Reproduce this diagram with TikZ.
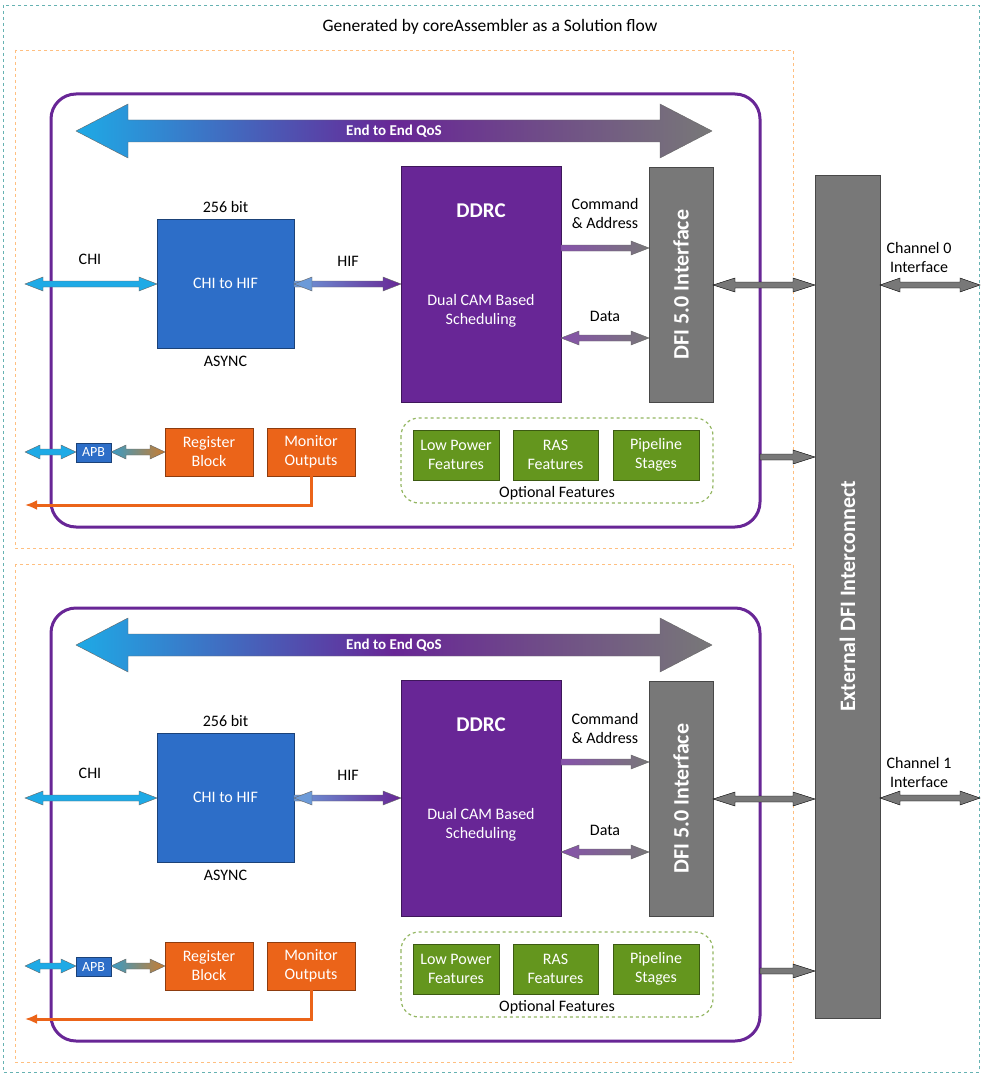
\documentclass[tikz,border=0pt]{standalone}
\usepackage{fontspec}
\setmainfont{Carlito}
\usetikzlibrary{calc,arrows.meta}
\definecolor{pur}{RGB}{104,38,150}
\definecolor{lblue}{RGB}{30,170,230}
\definecolor{bblue}{RGB}{45,110,200}
\definecolor{gry}{RGB}{120,120,120}
\definecolor{org}{RGB}{235,100,25}
\definecolor{grn}{RGB}{100,150,30}
\tikzset{
  blk/.style={draw=#1!60!black,fill=#1,line width=0.6pt,text=white,align=center,inner sep=0pt},
  lbl/.style={font=\fontsize{16}{19}\selectfont,align=center},
}
% double arrow polygon: x1 x2 y shafthalf headhalf headlen
\newcommand{\dbar}[7]{%
  \draw[#7] (#1+#6,#3-#4) -- (#2-#6,#3-#4) -- (#2-#6,#3-#5) -- (#2,#3) -- (#2-#6,#3+#5) -- (#2-#6,#3+#4)
    -- (#1+#6,#3+#4) -- (#1+#6,#3+#5) -- (#1,#3) -- (#1+#6,#3-#5) -- cycle;}
\newcommand{\sgar}[7]{%
  \draw[#7] (#1,#3-#4) -- (#2-#6,#3-#4) -- (#2-#6,#3-#5) -- (#2,#3) -- (#2-#6,#3+#5) -- (#2-#6,#3+#4)
    -- (#1,#3+#4) -- cycle;}
\newcommand{\channel}[2]{%
\begin{scope}[yshift=-#1pt]
  \draw[orange!50,dashed] (15,50) rectangle (793,548);
  \draw[pur,line width=3pt,rounded corners=25pt] (51,94) rectangle (760,527);
  \dbar{76}{712}{131}{11}{27}{52}{draw=black!60,left color=lblue,right color=gry,middle color=pur}
  \node[text=white,font=\bfseries\fontsize{15}{18}\selectfont] (qos#2) at (394,131) {End to End QoS};
  \node[blk=bblue,minimum width=137pt,minimum height=129pt,font=\fontsize{16}{19}\selectfont] (chi#2) at (225.5,283.5) {CHI to HIF};
  \node[lbl] at (225.5,207) {256 bit};
  \node[lbl] at (225.5,361) {ASYNC};
  \dbar{25}{157}{284}{3}{7}{18}{draw=black!60,fill=lblue}
  \node[lbl] at (90,259) {CHI};
  \sgar{294}{401}{284}{3}{7}{18}{draw=black!60,left color=bblue!70,right color=pur}
  \fill[bblue!70,draw=black!60] (294,284)--(312,277)--(312,291)--cycle;
  \node[lbl] at (348,261) {HIF};
  \node[blk=pur,minimum width=160pt,minimum height=236pt] (ddrc#2) at (481,284) {};
  \node[text=white,font=\bfseries\fontsize{21}{24}\selectfont] at (481,211) {DDRC};
  \node[text=white,lbl] at (481,311) {Dual CAM Based\\Scheduling};
  \node[lbl] at (605,214) {Command\\\& Address};
  \sgar{561}{649}{248}{3}{7}{18}{draw=black!60,left color=pur!80,right color=gry}
  \node[lbl] at (605,316) {Data};
  \dbar{561}{649}{338}{3}{7}{18}{draw=black!60,left color=pur!80,right color=gry}
  \node[blk=gry,minimum width=64pt,minimum height=235pt] (dfi#2) at (681,284.5) {};
  \node[rotate=90,text=white,font=\bfseries\fontsize{22}{26}\selectfont] at (681,284.5) {DFI 5.0 Interface};
  \dbar{713}{815}{285}{3}{7}{22}{fill=gry}
  \sgar{760}{815}{457}{3}{7}{22}{fill=gry}
  \dbar{25}{76}{452}{3}{7}{15}{draw=black!60,fill=lblue}
  \node[blk=bblue,minimum width=35pt,minimum height=19pt,font=\fontsize{14}{16}\selectfont] (apb#2) at (93.5,452.5) {APB};
  \dbar{111}{165}{452}{3}{7}{15}{draw=black!60,left color=lblue!70!gry,right color=orange!60!gry}
  \node[blk=org,minimum width=88pt,minimum height=48pt,lbl] (reg#2) at (209,452) {Register\\Block};
  \node[blk=org,minimum width=88pt,minimum height=48pt,lbl] (mon#2) at (311,452) {Monitor\\Outputs};
  \coordinate (oe#2) at (25,505);
  \draw[org,line width=3pt,-{Latex[length=12pt,width=10pt]}] (mon#2.south) |- (oe#2);
  \draw[grn!70!white,dashed,line width=1.2pt,rounded corners=18pt] (401,418) rectangle (713,503);
  \node[blk=grn,minimum width=86pt,minimum height=50pt,lbl] (lp#2) at (456,455) {Low Power\\Features};
  \node[blk=grn,minimum width=85pt,minimum height=50pt,lbl] (ras#2) at (555.5,455) {RAS\\Features};
  \node[blk=grn,minimum width=86pt,minimum height=50pt,lbl] (pipe#2) at (656,455) {Pipeline\\Stages};
  \node[lbl] at (557,493) {Optional Features};
\end{scope}}
\begin{document}
\begin{tikzpicture}[x=1pt,y=-1pt]
\useasboundingbox (0,0) rectangle (982,1075);
\fill[white] (0,0) rectangle (982,1075);
\draw[teal!60,dashed] (3,5) rectangle (979,1072);
\node[font=\fontsize{17.5}{20}\selectfont] (title) at (490,27) {Generated by coreAssembler as a Solution flow};
\channel{0}{a}
\channel{514}{b}
\node[blk=gry,minimum width=65pt,minimum height=843pt] (ext) at (847.5,596.5) {};
\node[rotate=90,text=white,font=\bfseries\fontsize{22}{26}\selectfont] at (847.5,596.5) {External DFI Interconnect};
\node[lbl] at (919,258) {Channel 0\\Interface};
\dbar{880}{980}{285}{3}{7}{20}{fill=gry}
\node[lbl] at (919,772) {Channel 1\\Interface};
\dbar{880}{980}{798}{3}{7}{20}{fill=gry}
\end{tikzpicture}
\end{document}
